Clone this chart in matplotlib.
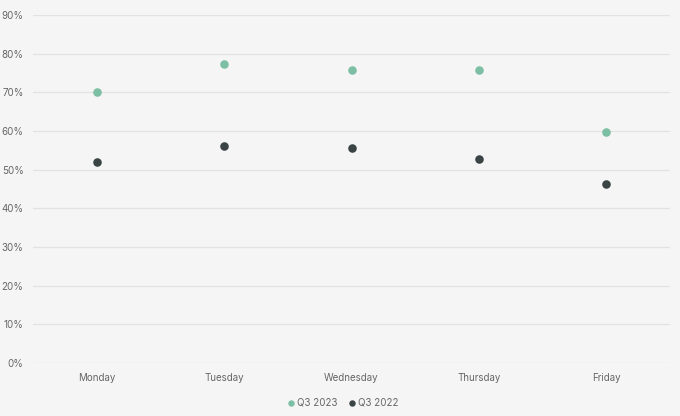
import matplotlib.pyplot as plt
from matplotlib.ticker import PercentFormatter

days = ["Monday", "Tuesday", "Wednesday", "Thursday", "Friday"]
q3_2023 = [0.700, 0.772, 0.758, 0.758, 0.597]
q3_2022 = [0.520, 0.561, 0.556, 0.529, 0.463]
yticks = [0, 0.1, 0.2, 0.3, 0.4, 0.5, 0.6, 0.7, 0.8, 0.9]

bg = "#f5f5f5"
green = "#7dbfa5"
dark = "#3b4444"
txt = "#666666"

plt.rcParams['font.family'] = ['Inter', 'DejaVu Sans']

fig = plt.figure(figsize=(6.8, 4.16), dpi=100, facecolor=bg)
ax = fig.add_axes([0.049, 0.127, 0.936, 0.837], facecolor=bg)

x = list(range(len(days)))
ax.scatter(x, q3_2023, s=38, color=green, label="Q3 2023", zorder=3, linewidths=0)
ax.scatter(x, q3_2022, s=38, color=dark, label="Q3 2022", zorder=3, linewidths=0)

ax.set_xlim(-0.5, len(days) - 0.5)
ax.set_ylim(0, 0.9)
ax.set_yticks(yticks)
ax.yaxis.set_major_formatter(PercentFormatter(1.0, decimals=0))
ax.set_xticks(x)
ax.set_xticklabels(days)
ax.tick_params(axis='both', length=0, labelsize=7, colors=txt)
ax.tick_params(axis='x', pad=7)
ax.tick_params(axis='y', pad=7)

ax.grid(axis='y', color='#e2e2e2', linewidth=0.9)
ax.set_axisbelow(True)
for s in ax.spines.values():
    s.set_visible(False)

leg = fig.legend(loc='center', bbox_to_anchor=(0.5, 0.033), ncol=2, frameon=False,
                 fontsize=7, handletextpad=-0.4, columnspacing=0.5, markerscale=0.75,
                 labelcolor=txt)

fig.savefig("out.png", dpi=100, facecolor=bg)
